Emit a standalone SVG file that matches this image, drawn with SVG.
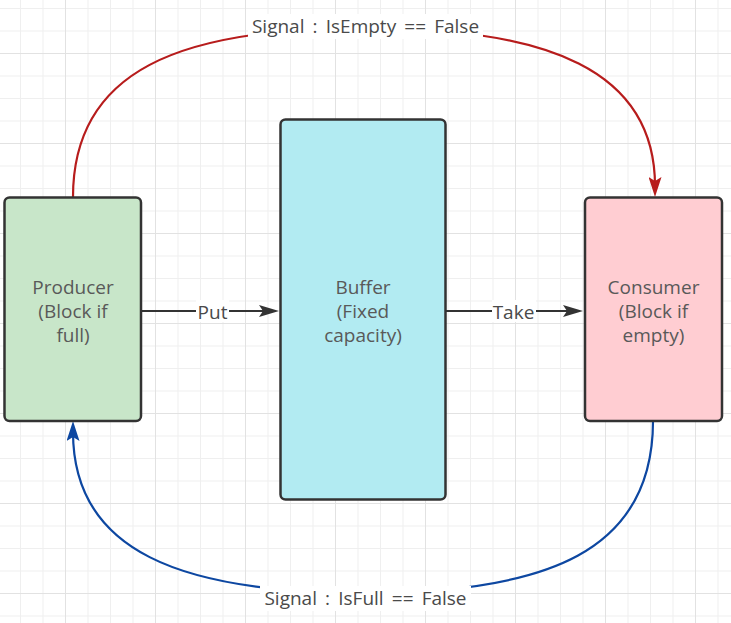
<svg xmlns="http://www.w3.org/2000/svg" width="731" height="623" viewBox="0 0 731 623">
<defs>
<pattern id="grid" patternUnits="userSpaceOnUse" x="20" y="8" width="90" height="90">
<path d="M0.5,0V90M23,0V90M68,0V90M0,0.5H90M0,23H90M0,68H90" stroke="#efefef" stroke-width="1" fill="none"/>
<path d="M45.5,0V90M0,45.5H90" stroke="#e2e2e2" stroke-width="1" fill="none"/>
</pattern>
<marker id="arrDark" markerUnits="userSpaceOnUse" markerWidth="20" markerHeight="14" refX="10" refY="6" orient="auto" viewBox="0 0 20 12">
<path d="M0,0 L20,6 L0,12 L4,6 z" fill="#333333"/>
</marker>
<marker id="arrRed" markerUnits="userSpaceOnUse" markerWidth="20" markerHeight="13" refX="9" refY="6.5" orient="auto" viewBox="0 0 20 13">
<path d="M0,0 L20,6.5 L0,13 L4,6.5 z" fill="#b71c1c"/>
</marker>
<marker id="arrBlue" markerUnits="userSpaceOnUse" markerWidth="20" markerHeight="13" refX="9" refY="6.5" orient="auto" viewBox="0 0 20 13">
<path d="M0,0 L20,6.5 L0,13 L4,6.5 z" fill="#0d47a1"/>
</marker>
</defs>
<style>
.box{stroke:#333333;stroke-width:2.5}
.ntxt{font-family:"Open Sans","Noto Sans","Liberation Sans",sans-serif;font-size:19px;fill:#595959;text-anchor:middle}
.ltxt{font-family:"Open Sans","Noto Sans","Liberation Sans",sans-serif;font-size:19px;fill:#4a4a4a;text-anchor:middle;word-spacing:3.2px}
.lbg{fill:#ffffff}
.conn{fill:none;stroke-width:2.2}
</style>
<rect width="731" height="623" fill="#ffffff"/>
<rect width="731" height="623" fill="url(#grid)"/>

<g id="connectors">
<path class="conn" d="M141,311 H269" stroke="#333333" marker-end="url(#arrDark)"/>
<path class="conn" d="M446,311 H573" stroke="#333333" marker-end="url(#arrDark)"/>
<path class="conn" d="M73,197 C73,70 180,28 365,28 C548,28 655,70 655,186" stroke="#b71c1c" marker-end="url(#arrRed)"/>
<path class="conn" d="M653,421 C653,551 548,593 365,593 C180,593 73,551 73,432" stroke="#0d47a1" marker-end="url(#arrBlue)"/>
<rect class="lbg" x="196" y="300" width="33" height="22"/>
<text class="ltxt" x="212.5" y="318.5">Put</text>
<rect class="lbg" x="492" y="300" width="44" height="22"/>
<text class="ltxt" x="513.5" y="318.5">Take</text>
<rect class="lbg" x="248" y="14" width="235" height="25"/>
<text class="ltxt" x="365.5" y="32.5">Signal : IsEmpty == False</text>
<rect class="lbg" x="260" y="586" width="211" height="25"/>
<text class="ltxt" x="365.5" y="605">Signal : IsFull == False</text>
</g>

<g id="producer">
<rect class="box" x="4.5" y="197.5" width="136.5" height="223.5" rx="5" fill="#c8e6c9"/>
<text class="ntxt" x="73" y="294">Producer</text>
<text class="ntxt" x="73" y="318">(Block if</text>
<text class="ntxt" x="73" y="342">full)</text>
</g>

<g id="buffer">
<rect class="box" x="280.5" y="119.5" width="165" height="380" rx="5" fill="#b2ebf2"/>
<text class="ntxt" x="363" y="294">Buffer</text>
<text class="ntxt" x="363" y="318">(Fixed</text>
<text class="ntxt" x="363" y="342">capacity)</text>
</g>

<g id="consumer">
<rect class="box" x="585" y="197.5" width="137" height="223.5" rx="5" fill="#ffcdd2"/>
<text class="ntxt" x="653.5" y="294">Consumer</text>
<text class="ntxt" x="653.5" y="318">(Block if</text>
<text class="ntxt" x="653.5" y="342">empty)</text>
</g>
</svg>
